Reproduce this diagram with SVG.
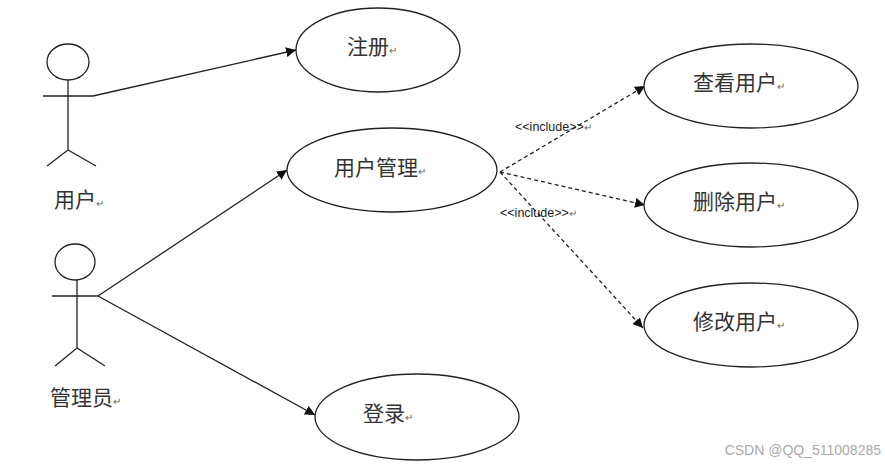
<svg xmlns="http://www.w3.org/2000/svg" width="885" height="465" viewBox="0 0 885 465">
<style>
.s{fill:none;stroke:#222;stroke-width:1.3}
.u{fill:#fff;stroke:#222;stroke-width:1.3}
.t{font-family:"Noto Sans CJK SC","Liberation Sans",sans-serif;font-size:21px;fill:#333}
.m{font-family:"Noto Sans CJK SC",sans-serif;font-size:10px;fill:#666}
.i{font-family:"Liberation Sans","DejaVu Sans",sans-serif;font-size:12.5px;fill:#222}
.d{stroke-dasharray:4 3}
</style>
<defs><marker id="a" viewBox="0 0 10 10" refX="10" refY="5" markerWidth="10" markerHeight="10" markerUnits="userSpaceOnUse" orient="auto"><path d="M0,0L10,5L0,10z" fill="#111"/></marker></defs>
<rect width="885" height="465" fill="#fff"/>
<g id="edges">
<line class="s" x1="93" y1="96" x2="296" y2="50" marker-end="url(#a)"/>
<line class="s" x1="98" y1="296" x2="287" y2="170" marker-end="url(#a)"/>
<line class="s" x1="98" y1="296" x2="315" y2="415" marker-end="url(#a)"/>
<line class="s d" x1="500" y1="172" x2="645" y2="86" marker-end="url(#a)"/>
<line class="s d" x1="500" y1="172" x2="645" y2="205" marker-end="url(#a)"/>
<line class="s d" x1="500" y1="172" x2="643" y2="328" marker-end="url(#a)"/>
<text class="i" x="515" y="131">&lt;&lt;include&gt;&gt;<tspan class="m">↵</tspan></text>
<text class="i" x="500" y="217">&lt;&lt;include&gt;&gt;<tspan class="m">↵</tspan></text>
</g>
<g id="actor-user">
<ellipse class="s" cx="68" cy="62" rx="21" ry="18"/>
<path class="s" d="M68,80V150M43,96H93M47,166L68,150L96,166"/>
<text class="t" x="54" y="207">用户<tspan class="m">↵</tspan></text>
</g>
<g id="actor-admin">
<ellipse class="s" cx="75" cy="262" rx="20" ry="18"/>
<path class="s" d="M77,280V348M52,296H98M55,366L77,348L105,366"/>
<text class="t" x="50" y="405">管理员<tspan class="m">↵</tspan></text>
</g>
<g id="uc-register"><ellipse class="u" cx="378" cy="50" rx="82" ry="42"/><text class="t" x="347" y="54">注册<tspan class="m">↵</tspan></text></g>
<g id="uc-manage"><ellipse class="u" cx="392" cy="170" rx="105" ry="42"/><text class="t" x="334" y="175">用户管理<tspan class="m">↵</tspan></text></g>
<g id="uc-login"><ellipse class="u" cx="417" cy="417" rx="102" ry="43"/><text class="t" x="363" y="421">登录<tspan class="m">↵</tspan></text></g>
<g id="uc-view"><ellipse class="u" cx="751" cy="86" rx="107" ry="42"/><text class="t" x="693" y="90">查看用户<tspan class="m">↵</tspan></text></g>
<g id="uc-delete"><ellipse class="u" cx="751" cy="205" rx="107" ry="42"/><text class="t" x="693" y="209">删除用户<tspan class="m">↵</tspan></text></g>
<g id="uc-edit"><ellipse class="u" cx="751" cy="325" rx="107" ry="42"/><text class="t" x="693" y="329">修改用户<tspan class="m">↵</tspan></text></g>
<text x="881" y="455" text-anchor="end" font-family="Liberation Sans,sans-serif" font-size="14" fill="#aaa">CSDN @QQ_511008285</text>
</svg>
